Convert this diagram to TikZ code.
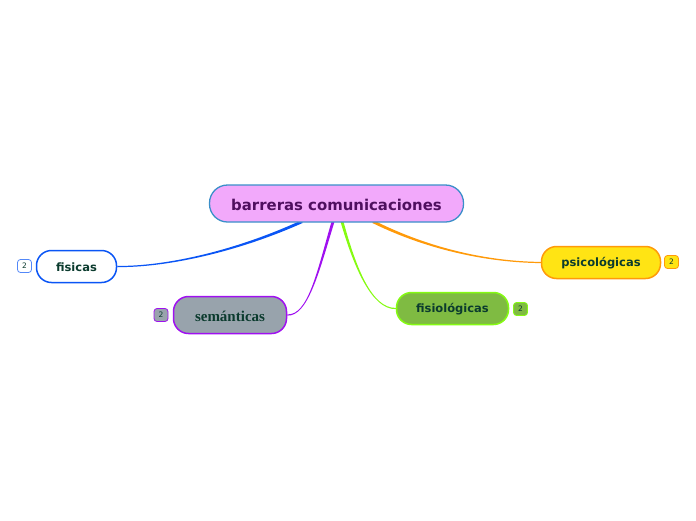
\documentclass[tikz,border=0pt]{standalone}
\usepackage{fontspec}
\setmainfont{DejaVu Sans}
\newfontfamily\serifb{Liberation Serif}
\usetikzlibrary{calc,backgrounds}
\definecolor{rootfill}{HTML}{F2A9FB}
\definecolor{rootline}{HTML}{3A8FC9}
\definecolor{roottext}{HTML}{4F0F5F}
\definecolor{kidtext}{HTML}{0B3B2E}
\definecolor{cblue}{HTML}{0A55F5}
\definecolor{cpurple}{HTML}{A010F0}
\definecolor{cgreen}{HTML}{85FB12}
\definecolor{corange}{HTML}{FF9A0A}
\definecolor{fgrey}{HTML}{98A3AC}
\definecolor{fgreen}{HTML}{7FBB42}
\definecolor{fyellow}{HTML}{FFE414}
\tikzset{
  rootbox/.style={draw=rootline,fill=rootfill,line width=1.3pt,rounded corners=18pt,minimum width=254pt,minimum height=37pt,inner sep=0pt,text=roottext,font=\fontsize{14.9}{18}\selectfont\bfseries},
  kidbox/.style={line width=1.5pt,rounded corners=15pt,inner sep=0pt,text=kidtext,font=\fontsize{11.5}{14}\selectfont\bfseries},
  badge/.style={line width=.8pt,rounded corners=3pt,minimum width=14pt,minimum height=13pt,inner sep=0pt,text=kidtext,font=\fontsize{7.5}{9}\selectfont},
}
\newcommand{\lowered}[1]{\raisebox{-1pt}[\height][\depth]{#1}}
% colour, root end, child end, control 1, control 2, half width vector at the root end
\newcommand{\taper}[6]{%
  \fill[#1] ($(#2)-(#6)$) .. controls ($#4-0.7*(#6)$) and ($#5+(0,-.6)$) .. ($(#3)+(0,-.6)$)
    -- ($(#3)+(0,.6)$) .. controls ($#5+(0,.6)$) and ($#4+0.7*(#6)$) .. ($(#2)+(#6)$) -- cycle;}
\begin{document}
\begin{tikzpicture}[x=1pt,y=-1pt]
\useasboundingbox (0,0) rectangle (696,520);
\node[rootbox] (root) at (336.5,203.5) {\lowered{barreras comunicaciones}};
\node[kidbox,draw=cblue,fill=white,minimum width=80pt,minimum height=32pt] (fis) at (76.5,266.5) {\lowered{fisicas}};
\node[kidbox,draw=cpurple,fill=fgrey,minimum width=113pt,minimum height=37pt,font=\serifb\fontsize{15}{16}\selectfont\bfseries] (sem) at (230,315) {\lowered{semánticas}};
\node[kidbox,draw=cgreen,fill=fgreen,minimum width=112pt,minimum height=32pt] (fio) at (452.5,308.5) {\lowered{fisiológicas}};
\node[kidbox,draw=corange,fill=fyellow,minimum width=119pt,minimum height=32pt] (psi) at (601,262.5) {\lowered{psicológicas}};
\node[badge,draw=cblue!70,fill=white] (bfis) at (24.5,266) {2};
\node[badge,draw=cpurple,fill=fgrey] (bsem) at (161,315) {2};
\node[badge,draw=cgreen,fill=fgreen] (bfio) at (520.5,309) {2};
\node[badge,draw=corange,fill=fyellow] (bpsi) at (671.5,262) {2};
\coordinate (r1) at ($(root.south)+(-34.5,-1)$);
\coordinate (r2) at ($(root.south)+(-3.5,-1)$);
\coordinate (r3) at ($(root.south)+(5.5,-1)$);
\coordinate (r4) at ($(root.south)+(36.5,-1)$);
\begin{scope}[on background layer]
\taper{cblue}{r1}{fis.east}{(235,252)}{(165,267)}{.7,1.3}
\taper{cpurple}{r2}{sem.east}{(318,272)}{(308,316)}{1.5,0}
\taper{cgreen}{r3}{fio.west}{(355,268)}{(372,309)}{-1.5,0}
\taper{corange}{r4}{psi.west}{(430,250)}{(490,262)}{-.7,1.3}
\end{scope}
\end{tikzpicture}
\end{document}
